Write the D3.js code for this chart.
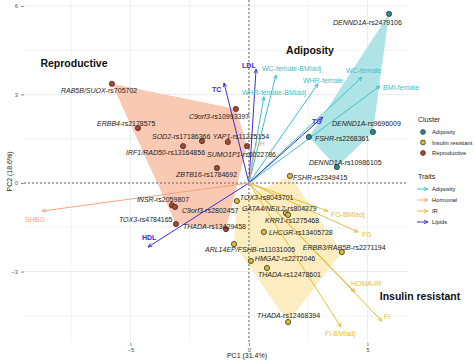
<!DOCTYPE html>
<html>
<head>
<meta charset="utf-8">
<script src="https://cdn.jsdelivr.net/npm/d3@7"></script>
<style>
  body { margin: 0; background: #fff; }
  text { font-family: "Liberation Sans", Arial, sans-serif; }
</style>
</head>
<body>
<svg id="chart"></svg>
<script>
// SNP scores on PC1 / PC2
const snpGenes = [
  'DENND1A', 'DENND1A', 'FSHR', 'DENND1A',
  'RAB5B/SUOX', 'ERBB4', 'C9orf3', 'SOD2', 'YAP1', 'IRF1/RAD50', 'SUMO1P1', 'ZBTB16',
  'INSR', 'C9orf3', 'TOX3', 'THADA',
  'FSHR', 'TOX3', 'GATA4/NEIL2', 'KRR1', 'LHCGR', 'ARL14EP/FSHB', 'HMGA2', 'THADA', 'THADA', 'ERBB3/RAB5B'
];
const snpIds = [
  'rs2479106', 'rs9696009', 'rs2268361', 'rs10986105',
  'rs705702', 'rs2178575', 'rs10993397', 'rs17186366', 'rs11225154', 'rs13164856', 'rs6022786', 'rs1784692',
  'rs2059807', 'rs2802457', 'rs4784165', 'rs13429458',
  'rs2349415', 'rs8043701', 'rs804279', 'rs1275468', 'rs13405728', 'rs11031005', 'rs2272046', 'rs12478601', 'rs12468394', 'rs2271194'
];
const snpPC1 = [
  5.91, 5.23, 2.53, 3.71,
  -5.78, -4.68, -0.55, -1.98, -0.89, -2.78, -0.08, -1.35,
  -3.25, -3.12, -3.08, -0.97,
  1.73, -0.51, 1.56, 1.65, 0.63, -0.63, 0.08, 0.76, 1.65, 3.92
];
const snpPC2 = [
  5.73, 1.73, 1.56, 0.54,
  3.36, 1.86, 2.51, 1.42, 1.39, 1.25, 1.25, 0.51,
  -0.75, -0.81, -1.39, -1.56,
  0.24, -0.61, -1.02, -1.08, -1.66, -2.07, -2.64, -2.88, -4.71, -2.34
];
const snpCluster = [
  'Adiposity', 'Adiposity', 'Adiposity', 'Adiposity',
  'Reproductive', 'Reproductive', 'Reproductive', 'Reproductive', 'Reproductive', 'Reproductive', 'Reproductive', 'Reproductive',
  'Reproductive', 'Reproductive', 'Reproductive', 'Reproductive',
  'Insulin resistant', 'Insulin resistant', 'Insulin resistant', 'Insulin resistant', 'Insulin resistant',
  'Insulin resistant', 'Insulin resistant', 'Insulin resistant', 'Insulin resistant', 'Insulin resistant'
];

// trait loadings
const traitNames = [
  'WC-female-BMIadj', 'WHR-female-BMIadj', 'WHR-female', 'WC-female', 'BMI-female',
  'LDL', 'TC', 'TG', 'HDL',
  'SHBG', 'LH',
  'FG-BMIadj', 'FG', 'HOMA-IR', 'FI', 'FI-BMIadj'
];
const traitPC1 = [1.14, 0.63, 2.91, 4.77, 5.53, 0.30, -1.05, 3.12, -4.26, -8.73, 0.21, 3.33, 4.60, 4.47, 5.61, 3.88];
const traitPC2 = [3.66, 2.92, 3.36, 3.59, 3.29, 3.86, 3.39, 2.24, -2.17, -0.95, 1.12, -0.95, -1.66, -3.69, -4.68, -4.88];
const traitGroup = [
  'Adiposity', 'Adiposity', 'Adiposity', 'Adiposity', 'Adiposity',
  'Lipids', 'Lipids', 'Lipids', 'Lipids',
  'Hormonal', 'Hormonal',
  'IR', 'IR', 'IR', 'IR', 'IR'
];

const clusters = ['Adiposity', 'Insulin resistant', 'Reproductive'];
const traitGroups = ['Adiposity', 'Hormonal', 'IR', 'Lipids'];
const xTicks = [-5, 0, 5];
const yTicks = [-3, 0, 3, 6];

// layout (px) -- label offsets mimic the repelled labels
const layout = {
  panel: { left: 24, top: 0, right: 408, bottom: 343 },
  xDomain: [-9.49, 6.71],
  yDomain: [-5.42, 6.2],
  snpNudge: [
    [-56, 9], [-41, -8], [6, 2], [-28, -5],
    [-51, 7], [-41, -5], [-47, 8], [-50, -5], [-15, -5], [-57, 6], [-40, 8], [-41, 7],
    [-35, -6], [7, 4], [-57, -4], [-43, -3],
    [3, 2], [3, -3], [-44, -5], [-23, 6], [5, 1], [-29, 5], [4, -2], [-9, 7], [-31, -6], [-39, -5]
  ],
  traitNudge: [
    [-14, -6], [-22, -4], [-15, -3], [-16, -6], [3, 2],
    [-14, -4], [-12, 7], [-11, 5], [-6, -10],
    [-17, 8], [2, -6],
    [3, 3], [4, 3], [-4, -8], [2, -5], [-16, 6]
  ],
  titles: [
    { text: 'Reproductive', x: 74, y: 63 },
    { text: 'Adiposity', x: 310, y: 50 },
    { text: 'Insulin resistant', x: 420, y: 296 }
  ]
};

const pointFill = { 'Adiposity': '#1f8f94', 'Insulin resistant': '#dcbb2e', 'Reproductive': '#b0442a' };
const hullFill = { 'Adiposity': '#afe4e6', 'Insulin resistant': '#fbedc0', 'Reproductive': '#f9c9b3' };
const traitColor = { 'Adiposity': '#3fc0c6', 'Hormonal': '#f5a47f', 'IR': '#e3c03a', 'Lipids': '#3a2ed6' };

class Biplot {
  #svg;
  #x;
  #y;

  constructor(id, width, height) {
    this.#svg = d3.select('#' + id)
      .attr('width', width)
      .attr('height', height);
    const p = layout.panel;
    this.#x = d3.scaleLinear().domain(layout.xDomain).range([p.left, p.right]);
    this.#y = d3.scaleLinear().domain(layout.yDomain).range([p.bottom, p.top]);

    const defs = this.#svg.append('defs');
    traitGroups.forEach((g, i) => {
      defs.append('marker')
        .attr('id', 'arrow-' + i)
        .attr('viewBox', '0 0 10 10')
        .attr('refX', 9)
        .attr('refY', 5)
        .attr('markerWidth', 5)
        .attr('markerHeight', 5)
        .attr('markerUnits', 'userSpaceOnUse')
        .attr('orient', 'auto')
        .append('path')
        .attr('d', 'M1,1.5 L9,5 L1,8.5')
        .attr('fill', 'none')
        .attr('stroke', traitColor[g])
        .attr('stroke-width', 1.8);
    });
  }

  drawGrid() {
    const p = layout.panel;
    const g = this.#svg.append('g').attr('class', 'grid');
    const xMinor = [-7.5, -2.5, 2.5];
    const yMinor = [-4.5, -1.5, 1.5, 4.5];

    g.selectAll('.vx').data(xTicks.concat(xMinor)).enter().append('line')
      .attr('x1', d => this.#x(d)).attr('x2', d => this.#x(d))
      .attr('y1', p.top).attr('y2', p.bottom)
      .attr('stroke', '#ebebeb').attr('stroke-width', d => xTicks.includes(d) ? 0.9 : 0.6);
    g.selectAll('.hy').data(yTicks.concat(yMinor)).enter().append('line')
      .attr('y1', d => this.#y(d)).attr('y2', d => this.#y(d))
      .attr('x1', p.left).attr('x2', p.right)
      .attr('stroke', '#ebebeb').attr('stroke-width', d => yTicks.includes(d) ? 0.9 : 0.6);
  }

  drawAxes() {
    const p = layout.panel;
    const xAxis = d3.axisBottom(this.#x).tickValues(xTicks).tickSize(3).tickPadding(2);
    const yAxis = d3.axisLeft(this.#y).tickValues(yTicks).tickSize(3).tickPadding(3);

    const gx = this.#svg.append('g')
      .attr('class', 'x axis')
      .attr('transform', 'translate(0, ' + p.bottom + ')')
      .call(xAxis);
    const gy = this.#svg.append('g')
      .attr('class', 'y axis')
      .attr('transform', 'translate(' + p.left + ', 0)')
      .call(yAxis);

    [gx, gy].forEach(a => {
      a.select('.domain').remove();
      a.selectAll('line').attr('stroke', '#555').attr('stroke-width', 0.7);
      a.selectAll('text').attr('fill', '#555').attr('font-size', 6)
        .style('font-family', '"Liberation Sans", Arial, sans-serif');
    });

    this.#svg.append('text')
      .attr('x', this.#x(0) - 2)
      .attr('y', 358)
      .attr('text-anchor', 'middle')
      .attr('font-size', 7)
      .attr('fill', '#222')
      .text('PC1 (31.4%)');

    this.#svg.append('text')
      .attr('transform', 'translate(12, ' + ((p.top + p.bottom) / 2) + ') rotate(-90)')
      .attr('text-anchor', 'middle')
      .attr('font-size', 7)
      .attr('fill', '#222')
      .text('PC2 (18.6%)');
  }

  drawHulls() {
    clusters.forEach(c => {
      const pts = snpPC1
        .map((v, i) => [this.#x(v), this.#y(snpPC2[i]), snpCluster[i]])
        .filter(d => d[2] === c)
        .map(d => [d[0], d[1]]);
      const hull = d3.polygonHull(pts);
      this.#svg.append('path')
        .attr('class', 'hull')
        .attr('d', 'M' + hull.join('L') + 'Z')
        .attr('fill', hullFill[c]);
    });
  }

  drawZeroLines() {
    const p = layout.panel;
    this.#svg.append('line')
      .attr('x1', this.#x(0)).attr('x2', this.#x(0))
      .attr('y1', p.top).attr('y2', p.bottom)
      .attr('stroke', '#666').attr('stroke-width', 1).attr('stroke-dasharray', '2,2');
    this.#svg.append('line')
      .attr('y1', this.#y(0)).attr('y2', this.#y(0))
      .attr('x1', p.left).attr('x2', p.right)
      .attr('stroke', '#666').attr('stroke-width', 1).attr('stroke-dasharray', '2,2');
  }

  drawArrows() {
    const idx = d3.range(traitNames.length);
    this.#svg.selectAll('.trait')
      .data(idx)
      .enter()
      .append('line')
      .attr('class', 'trait')
      .attr('x1', this.#x(0))
      .attr('y1', this.#y(0))
      .attr('x2', i => this.#x(traitPC1[i]))
      .attr('y2', i => this.#y(traitPC2[i]))
      .attr('stroke', i => traitColor[traitGroup[i]])
      .attr('stroke-width', 1)
      .attr('marker-end', i => 'url(#arrow-' + traitGroups.indexOf(traitGroup[i]) + ')');

    this.#svg.selectAll('.trait-label')
      .data(idx)
      .enter()
      .append('text')
      .attr('class', 'trait-label')
      .attr('x', i => this.#x(traitPC1[i]) + layout.traitNudge[i][0])
      .attr('y', i => this.#y(traitPC2[i]) + layout.traitNudge[i][1])
      .attr('dy', '0.35em')
      .attr('font-size', 7)
      .attr('font-weight', i => traitGroup[i] === 'Lipids' ? 'bold' : 'normal')
      .attr('fill', i => traitColor[traitGroup[i]])
      .text(i => traitNames[i]);
  }

  drawPoints() {
    const idx = d3.range(snpIds.length);
    this.#svg.selectAll('.snp')
      .data(idx)
      .enter()
      .append('circle')
      .attr('class', 'snp')
      .attr('cx', i => this.#x(snpPC1[i]))
      .attr('cy', i => this.#y(snpPC2[i]))
      .attr('r', 2.6)
      .attr('fill', i => pointFill[snpCluster[i]])
      .attr('stroke', '#333')
      .attr('stroke-width', 0.8);

    const labels = this.#svg.selectAll('.snp-label')
      .data(idx)
      .enter()
      .append('text')
      .attr('class', 'snp-label')
      .attr('x', i => this.#x(snpPC1[i]) + layout.snpNudge[i][0])
      .attr('y', i => this.#y(snpPC2[i]) + layout.snpNudge[i][1])
      .attr('dy', '0.35em')
      .attr('font-size', 7)
      .attr('fill', '#222');
    labels.append('tspan').attr('font-style', 'italic').text(i => snpGenes[i]);
    labels.append('tspan').text(i => '-' + snpIds[i]);
  }

  drawTitles() {
    this.#svg.selectAll('.cluster-title')
      .data(layout.titles)
      .enter()
      .append('text')
      .attr('class', 'cluster-title')
      .attr('x', d => d.x)
      .attr('y', d => d.y)
      .attr('dy', '0.35em')
      .attr('text-anchor', 'middle')
      .attr('font-size', 10.5)
      .attr('font-weight', 'bold')
      .attr('fill', '#111')
      .text(d => d.text);
  }

  drawLegend() {
    const g = this.#svg.append('g').attr('class', 'legend');
    g.append('text').attr('x', 418).attr('y', 120).attr('dy', '0.35em')
      .attr('font-size', 7).attr('fill', '#222').text('Cluster');
    clusters.forEach((c, i) => {
      const y = 132 + i * 10.5;
      g.append('circle').attr('cx', 423).attr('cy', y).attr('r', 2.4)
        .attr('fill', pointFill[c]).attr('stroke', '#333').attr('stroke-width', 0.8);
      g.append('text').attr('x', 432).attr('y', y).attr('dy', '0.35em')
        .attr('font-size', 5.8).attr('fill', '#222').text(c);
    });

    g.append('text').attr('x', 418).attr('y', 177).attr('dy', '0.35em')
      .attr('font-size', 7).attr('fill', '#222').text('Traits');
    traitGroups.forEach((t, i) => {
      const y = 189 + i * 11;
      g.append('line').attr('x1', 417).attr('x2', 428).attr('y1', y).attr('y2', y)
        .attr('stroke', traitColor[t]).attr('stroke-width', 1)
        .attr('marker-end', 'url(#arrow-' + i + ')');
      g.append('text').attr('x', 432).attr('y', y).attr('dy', '0.35em')
        .attr('font-size', 5.8).attr('fill', '#222').text(t);
    });
  }
}

const chart = new Biplot('chart', 474, 362);
chart.drawGrid();
chart.drawAxes();
chart.drawHulls();
chart.drawZeroLines();
chart.drawArrows();
chart.drawPoints();
chart.drawTitles();
chart.drawLegend();
</script>
</body>
</html>
